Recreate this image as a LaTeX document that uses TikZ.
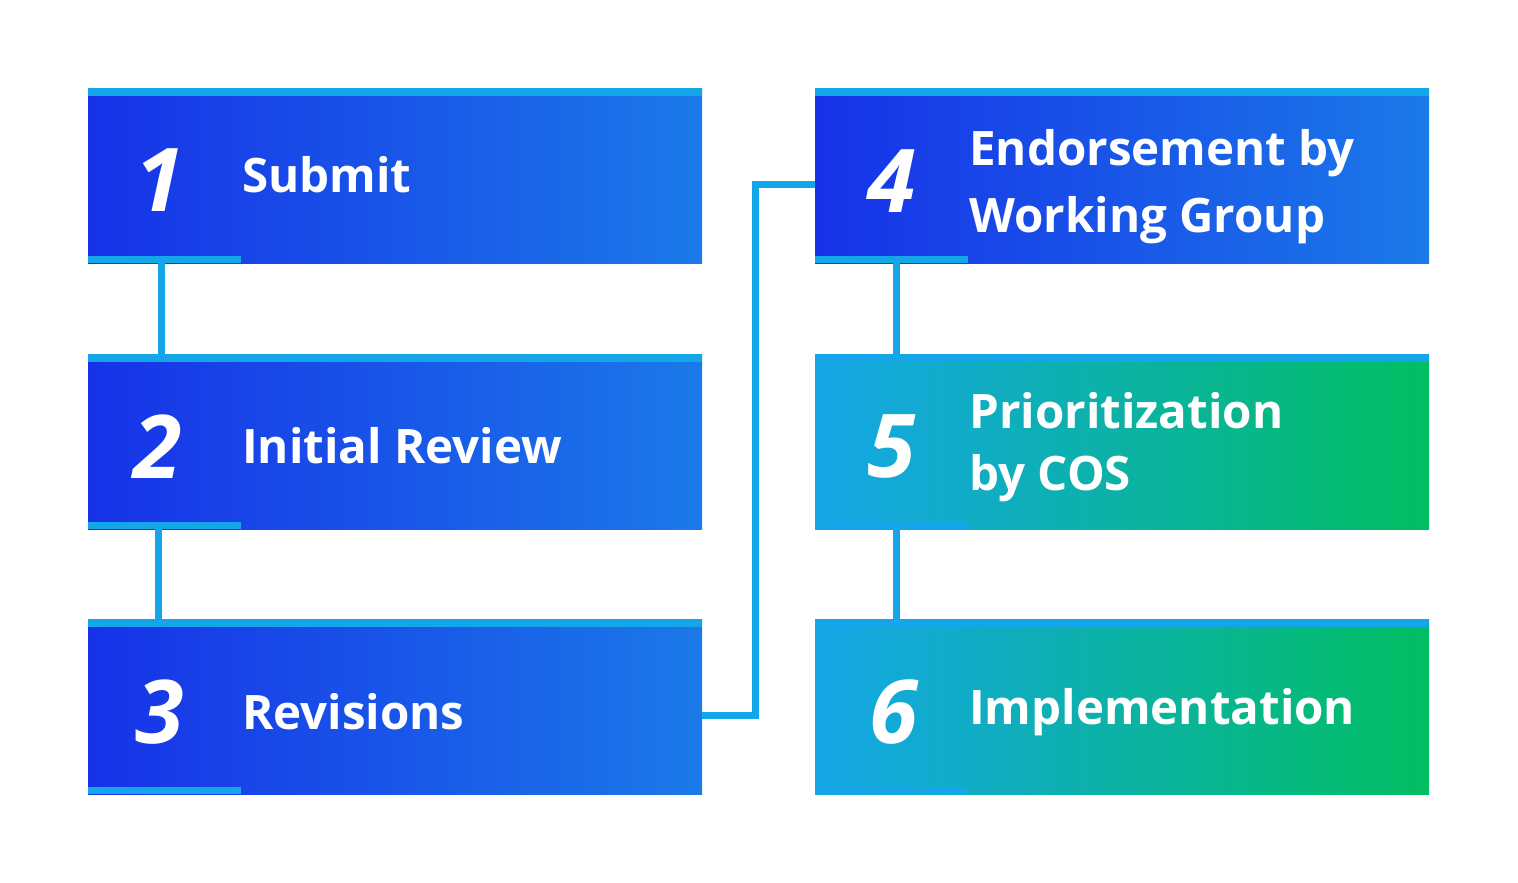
\documentclass[tikz,border=0pt]{standalone}
\usepackage{fontspec}
\setmainfont{Open Sans}
\definecolor{blueL}{RGB}{23,50,232}
\definecolor{blueR}{RGB}{27,121,232}
\definecolor{cyanL}{RGB}{21,166,231}
\definecolor{greenR}{RGB}{2,190,98}
\definecolor{barc}{RGB}{20,166,232}
\tikzset{
  box/.style={rectangle, minimum width=614pt, minimum height=175pt, inner sep=0pt, outer sep=0pt, anchor=north west, draw=none},
  bluebox/.style={box, left color=blueL, right color=blueR},
  greenbox/.style={box, left color=cyanL, right color=greenR},
  num/.style={text=white, inner sep=0pt, anchor=base, font=\fontsize{88}{88}\selectfont\bfseries\itshape},
  lbl/.style={text=white, inner sep=0pt, anchor=base west, align=left, font=\fontsize{47.5}{66}\selectfont\bfseries},
  conn/.style={draw=barc, line width=7pt},
}
\begin{document}
\begin{tikzpicture}[x=1pt,y=-1pt]
\fill[white] (0,0) rectangle (1518,883);
\useasboundingbox (0,0) rectangle (1518,883);
% boxes
\node[bluebox] (b1) at (88,88) {};
\node[bluebox] (b2) at (88,354) {};
\node[bluebox] (b3) at (88,619) {};
\node[bluebox] (b4) at (815,88) {};
\node[greenbox] (b5) at (815,354) {};
\node[greenbox] (b6) at (815,619) {};
% bars
\foreach \b in {b1,b2,b3,b4,b5,b6}{
  \fill[barc] (\b.north west) rectangle ([yshift=-8pt]\b.north east);
  \fill[barc] ([yshift=7pt]\b.south west) rectangle ([xshift=153pt]\b.south west);
}
% connectors
\draw[conn] ([xshift=73pt]b1.south west) -- ([xshift=73pt]b2.north west);
\draw[conn] ([xshift=70pt]b2.south west) -- ([xshift=70pt]b3.north west);
\draw[conn] ([xshift=81pt]b4.south west) -- ([xshift=81pt]b5.north west);
\draw[conn] ([xshift=81pt]b5.south west) -- ([xshift=81pt]b6.north west);
\draw[conn] ([yshift=-8.5pt]b3.east) -- ++(53,0) |- ([yshift=-8.5pt]b4.west);
% numbers
\node[num] (n1) at (160,211) {1};
\node[num] (n2) at (158,478) {2};
\node[num] (n3) at (160,743) {3};
\node[num] (n4) at (892,212) {4};
\node[num] (n5) at (892,477) {5};
\node[num] (n6) at (894,743) {6};
% labels
\node[lbl] (l1) at (242,192) {Submit};
\node[lbl] (l2) at (242,463) {Initial Review};
\node[lbl] (l3) at (242,729) {Revisions};
\node[lbl, font=\fontsize{47.5}{67}\selectfont\bfseries] (l4) at (969,232) {Endorsement by\\Working Group};
\node[lbl, font=\fontsize{47.5}{62}\selectfont\bfseries] (l5) at (969,490) {Prioritization\\by COS};
\node[lbl] (l6) at (969,724) {Implementation};
\end{tikzpicture}
\end{document}
